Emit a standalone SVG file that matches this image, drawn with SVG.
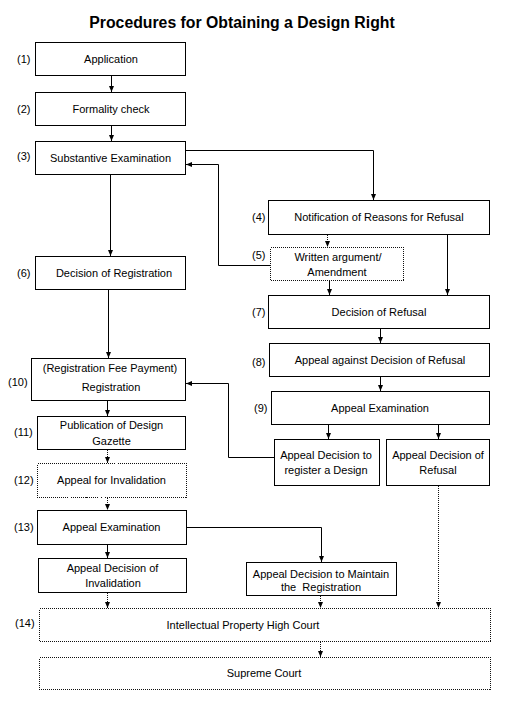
<svg xmlns="http://www.w3.org/2000/svg" width="510" height="710" viewBox="0 0 510 710">
<style>
text{font-family:"Liberation Sans",Arial,sans-serif;font-size:11px;fill:#000}
.t{text-anchor:middle}
.title{font-size:15.8px;font-weight:bold;text-anchor:middle}
.b{fill:#fff;stroke:#000;stroke-width:1}
.d{fill:#fff;stroke:#111;stroke-width:1;stroke-dasharray:1 1;shape-rendering:crispEdges}
.c{fill:none;stroke:#000;stroke-width:1;marker-end:url(#ah)}
.cd{fill:none;stroke:#111;stroke-width:1;stroke-dasharray:1 1;shape-rendering:crispEdges;marker-end:url(#ah)}
</style>
<defs>
<marker id="ah" viewBox="0 0 6 5" refX="6" refY="2.5" markerWidth="6" markerHeight="5" markerUnits="userSpaceOnUse" orient="auto">
<path d="M0,0 L6,2.5 L0,5 z" fill="#000" style="shape-rendering:auto"/>
</marker>
</defs>
<rect width="510" height="710" fill="#fff"/>
<text class="title" x="242" y="28">Procedures for Obtaining a Design Right</text>

<g id="connectors">
<path class="c" d="M111.5 75.5 V92"/>
<path class="c" d="M111.5 125.5 V141"/>
<path class="c" d="M185.5 150.5 H373.5 V200"/>
<path class="c" d="M110.5 174.5 V256"/>
<path class="c" d="M270.5 265.5 H218.5 V164.5 H186"/>
<path class="cd" d="M327.5 234.5 V247"/>
<path class="c" d="M447.5 234.5 V295"/>
<path class="c" d="M329.5 280.5 V295"/>
<path class="c" d="M108.5 289.5 V358"/>
<path class="c" d="M380.5 328.5 V343"/>
<path class="c" d="M380.5 376.5 V391"/>
<path class="c" d="M328.5 424.5 V439"/>
<path class="c" d="M438.5 424.5 V439"/>
<path class="c" d="M274.5 457.5 H228.5 V383.5 H186"/>
<path class="c" d="M107.5 400.5 V416"/>
<path class="cd" d="M107.5 449.5 V463"/>
<path class="cd" d="M107.5 497.5 V510"/>
<path class="c" d="M107.5 544.5 V558"/>
<path class="c" d="M186.5 527.5 H321.5 V562"/>
<path class="cd" d="M438.5 485.5 V608"/>
<path class="cd" d="M107.5 592.5 V608"/>
<path class="cd" d="M320.5 595.5 V608"/>
<path class="cd" d="M320.5 641.5 V657"/>
</g>

<g id="n1"><rect class="b" x="35.5" y="42.5" width="150" height="33"/><text class="t" x="111" y="63">Application</text><text x="17" y="63">(1)</text></g>
<g id="n2"><rect class="b" x="35.5" y="92.5" width="150" height="33"/><text class="t" x="111" y="113">Formality check</text><text x="17" y="113">(2)</text></g>
<g id="n3"><rect class="b" x="35.5" y="141.5" width="150" height="33"/><text class="t" x="110.5" y="162">Substantive Examination</text><text x="17" y="160">(3)</text></g>
<g id="n4"><rect class="b" x="268.5" y="200.5" width="221" height="34"/><text class="t" x="379" y="221">Notification of Reasons for Refusal</text><text x="252" y="221">(4)</text></g>
<g id="n5"><rect class="d" x="270.5" y="247.5" width="133" height="33"/><text class="t" x="338" y="261">Written argument/</text><text class="t" x="337" y="276">Amendment</text><text x="252" y="259">(5)</text></g>
<g id="n6"><rect class="b" x="35.5" y="256.5" width="150" height="33"/><text class="t" x="114" y="277">Decision of Registration</text><text x="17" y="277">(6)</text></g>
<g id="n7"><rect class="b" x="268.5" y="295.5" width="221" height="33"/><text class="t" x="379" y="316">Decision of Refusal</text><text x="252" y="316">(7)</text></g>
<g id="n8"><rect class="b" x="269.5" y="343.5" width="220" height="33"/><text class="t" x="380" y="364">Appeal against Decision of Refusal</text><text x="252" y="366">(8)</text></g>
<g id="n9"><rect class="b" x="271.5" y="391.5" width="218" height="33"/><text class="t" x="380" y="412">Appeal Examination</text><text x="254" y="412">(9)</text></g>
<g id="n9a"><rect class="b" x="274.5" y="439.5" width="105" height="46"/><text class="t" x="326" y="459">Appeal Decision to</text><text class="t" x="326" y="474">register a Design</text></g>
<g id="n9b"><rect class="b" x="386.5" y="439.5" width="103" height="46"/><text class="t" x="438" y="459">Appeal Decision of</text><text class="t" x="438" y="474">Refusal</text></g>
<g id="n10"><rect class="b" x="31.5" y="358.5" width="154" height="42"/><text class="t" x="110" y="372">(Registration Fee Payment)</text><text class="t" x="111" y="391">Registration</text><text x="8" y="386">(10)</text></g>
<g id="n11"><rect class="b" x="37.5" y="416.5" width="148" height="33"/><text class="t" x="111.5" y="429">Publication of Design</text><text class="t" x="111.5" y="445">Gazette</text><text x="14" y="436">(11)</text></g>
<g id="n12"><rect class="d" x="37.5" y="463.5" width="149" height="34"/><text class="t" x="111.5" y="484">Appeal for Invalidation</text><text x="14" y="484">(12)</text></g>
<g id="n13"><rect class="b" x="37.5" y="510.5" width="149" height="34"/><text class="t" x="111.5" y="531">Appeal Examination</text><text x="14" y="531">(13)</text></g>
<g id="n13a"><rect class="b" x="38.5" y="558.5" width="148" height="34"/><text class="t" x="112.5" y="572">Appeal Decision of</text><text class="t" x="113" y="587">Invalidation</text></g>
<g id="n13b"><rect class="b" x="246.5" y="562.5" width="150" height="33"/><text class="t" x="321" y="578">Appeal Decision to Maintain</text><text class="t" x="321" y="591" xml:space="preserve">the  Registration</text></g>
<g id="n14"><rect class="d" x="39.5" y="608.5" width="451" height="33"/><text class="t" x="243" y="629">Intellectual Property High Court</text><text x="15" y="627">(14)</text></g>
<g id="n15"><rect class="d" x="39.5" y="657.5" width="451" height="32"/><text class="t" x="264" y="677">Supreme Court</text></g>
</svg>
